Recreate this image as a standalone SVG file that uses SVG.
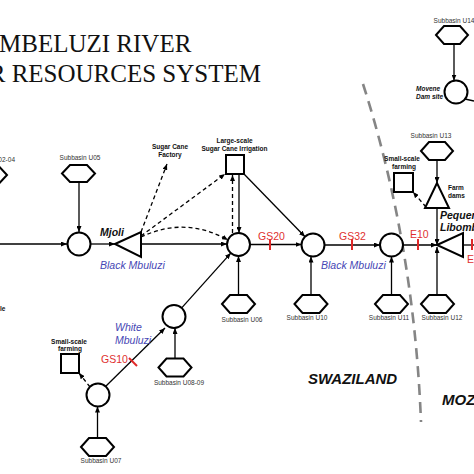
<svg xmlns="http://www.w3.org/2000/svg" width="474" height="474" viewBox="0 0 474 474">
<defs>
<marker id="ah" markerUnits="userSpaceOnUse" markerWidth="6" markerHeight="5" refX="6" refY="2.5" orient="auto"><path d="M0,0 L6,2.5 L0,5 z" fill="#000"/></marker>
</defs>
<style>
.node{fill:#fff;stroke:#000;stroke-width:2}
.ln{fill:none;stroke:#000;stroke-width:1.3;marker-end:url(#ah)}
.dl{fill:none;stroke:#000;stroke-width:1.3;stroke-dasharray:4 3;marker-end:url(#ah)}
.tick{stroke:#e02828;stroke-width:2}
.sb{font-family:"Liberation Sans",Arial,sans-serif;font-size:6.5px;fill:#333;text-anchor:middle}
.lb{font-family:"Liberation Sans",Arial,sans-serif;font-size:6.5px;font-weight:bold;fill:#111;text-anchor:middle}
.bi{font-family:"Liberation Sans",Arial,sans-serif;font-weight:bold;font-style:italic;fill:#111}
.riv{font-family:"Liberation Sans",Arial,sans-serif;font-size:10.5px;font-style:italic;fill:#4646b4}
.red{font-family:"Liberation Sans",Arial,sans-serif;font-size:10.5px;fill:#e03030}
.ttl{font-family:"Liberation Serif","Times New Roman",serif;font-size:25px;fill:#111}
</style>
<rect width="474" height="474" fill="#fff"/>
<text class="ttl" x="-1" y="52">MBELUZI RIVER</text>
<text class="ttl" x="261" y="82" text-anchor="end">R RESOURCES SYSTEM</text>
<path d="M363,84 Q414,243 421,422" fill="none" stroke="#858585" stroke-width="2.6" stroke-dasharray="11 7"/>
<g id="connectors">
<path class="ln" d="M0,244 H67"/>
<path class="ln" d="M79,182 V232"/>
<path class="ln" d="M90.5,244 H115"/>
<path class="ln" d="M141,244 H227"/>
<path class="dl" d="M141,237 Q185,216 228,240"/>
<path class="dl" d="M141,236 L225,174"/>
<path class="dl" d="M141,232 L167,164"/>
<path class="dl" d="M232.5,233 V175"/>
<path class="ln" d="M239,175 V233"/>
<path class="ln" d="M244,174 L305,236.7"/>
<path class="ln" d="M250,244.5 H301.5"/>
<path class="ln" d="M324.5,245 H380"/>
<path class="ln" d="M403,245 H437"/>
<path d="M463,245 H474" stroke="#000" stroke-width="1.3"/>
<path class="ln" d="M437,160 V183"/>
<path class="ln" d="M437,208 V245"/>
<path class="ln" d="M437,295 V247"/>
<path class="dl" d="M426,207 L413,192"/>
<path class="ln" d="M238.5,295 V256"/>
<path class="ln" d="M311,295 V256.5"/>
<path class="ln" d="M391.5,295 V256.5"/>
<path class="ln" d="M105,387 L165,328"/>
<path class="ln" d="M181.7,307.9 L230.8,253.1"/>
<path class="ln" d="M97.5,438 V406.5"/>
<path class="ln" d="M175,358.5 V328"/>
<path class="dl" d="M90,387 L79,373"/>
<path class="ln" d="M454,44 V80.5"/>
<path d="M465,99 L474,101" stroke="#000" stroke-width="1.3"/>
<line class="tick" x1="270" y1="239" x2="270" y2="250"/>
<line class="tick" x1="352" y1="239" x2="352" y2="250"/>
<line class="tick" x1="418" y1="239" x2="418" y2="250"/>
<line class="tick" x1="472" y1="239" x2="472" y2="250"/>
<line class="tick" x1="129" y1="358" x2="137" y2="366"/>
</g>
<g id="U02-04"><polygon class="node" points="-26,175 -18,166.5 -1,166.5 7,175 -1,183.5 -18,183.5"/><text class="sb" x="15" y="162" text-anchor="end" style="text-anchor:end">Subbasin U02-04</text></g>
<g id="U05"><polygon class="node" points="62,173.5 70,165 87,165 95,173.5 87,182 70,182"/><text class="sb" x="80" y="160">Subbasin U05</text></g>
<g id="N1"><circle class="node" cx="79" cy="244" r="11.5"/></g>
<g id="Mjoli"><polygon class="node" points="115,244 141,232 141,257"/><text class="bi" x="100" y="236" font-size="10.5">Mjoli</text></g>
<g id="Factory"><text class="lb" x="170" y="149">Sugar Cane</text><text class="lb" x="170" y="157">Factory</text></g>
<g id="Irrigation"><rect class="node" x="226" y="155" width="18" height="19"/><text class="lb" x="234.5" y="143">Large-scale</text><text class="lb" x="234.5" y="151">Sugar Cane Irrigation</text></g>
<g id="NA"><circle class="node" cx="238.5" cy="244.5" r="11.5"/></g>
<g id="NB"><circle class="node" cx="313" cy="245" r="11.5"/></g>
<g id="NC"><circle class="node" cx="391.5" cy="245" r="11.5"/></g>
<g id="Pequenos"><polygon class="node" points="437,245 463,233 463,257"/><text class="bi" x="440" y="219" font-size="10.5">Pequenos</text><text class="bi" x="440" y="231" font-size="10.5">Libombos</text></g>
<g id="FarmDams"><polygon class="node" points="437,183 425,208 449,208"/><text class="lb" x="448" y="190" style="text-anchor:start">Farm</text><text class="lb" x="448" y="198" style="text-anchor:start">dams</text></g>
<g id="FarmR"><rect class="node" x="394" y="173" width="19" height="19"/><text class="lb" x="402" y="161">Small-scale</text><text class="lb" x="404" y="169">farming</text></g>
<g id="U13"><polygon class="node" points="421,151 429,142 445,142 453,151 445,160 429,160"/><text class="sb" x="431" y="138">Subbasin U13</text></g>
<g id="U14"><polygon class="node" points="436,35 444,26 460,26 468,35 460,44 444,44"/><text class="sb" x="454" y="23">Subbasin U14</text></g>
<g id="Movene"><circle class="node" cx="456" cy="92" r="11.5"/><text class="bi" x="416" y="91" font-size="6.5">Movene</text><text class="bi" x="416" y="99" font-size="6.5">Dam site</text></g>
<g id="U06"><polygon class="node" points="222,304 230,295 247,295 255,304 247,313 230,313"/><text class="sb" x="242" y="322">Subbasin U06</text></g>
<g id="U10"><polygon class="node" points="294.5,304 302.5,295 319.5,295 327.5,304 319.5,313 302.5,313"/><text class="sb" x="307" y="320">Subbasin U10</text></g>
<g id="U11"><polygon class="node" points="375,304 383,295 400,295 408,304 400,313 383,313"/><text class="sb" x="389" y="320">Subbasin U11</text></g>
<g id="U12"><polygon class="node" points="421,304 429,295 446,295 454,304 446,313 429,313"/><text class="sb" x="442" y="320">Subbasin U12</text></g>
<g id="ND"><circle class="node" cx="98" cy="395" r="11.5"/></g>
<g id="NE"><circle class="node" cx="174" cy="316.5" r="11.5"/></g>
<g id="FarmL"><rect class="node" x="61" y="354" width="18" height="19"/><text class="lb" x="69" y="344">Small-scale</text><text class="lb" x="70" y="351">farming</text></g>
<g id="U07"><polygon class="node" points="81,447 89,438 106,438 114,447 106,456 89,456"/><text class="sb" x="101" y="463">Subbasin U07</text></g>
<g id="U08-09"><polygon class="node" points="158.5,367.5 166.5,358.5 183.5,358.5 191.5,367.5 183.5,376.5 166.5,376.5"/><text class="sb" x="179" y="385">Subbasin U08-09</text></g>
<g id="labels">
<text class="riv" x="100" y="269">Black Mbuluzi</text>
<text class="riv" x="321" y="269">Black Mbuluzi</text>
<text class="riv" x="115" y="331">White</text>
<text class="riv" x="115" y="344">Mbuluzi</text>
<text class="red" x="258" y="240">GS20</text>
<text class="red" x="339" y="240">GS32</text>
<text class="red" x="410" y="238">E10</text>
<text class="red" x="467" y="263">E</text>
<text class="red" x="101" y="363">GS10</text>
<text class="bi" x="308" y="384" font-size="15">SWAZILAND</text>
<text class="bi" x="442" y="405" font-size="15">MOZ</text>
<text class="lb" x="0" y="311" style="text-anchor:start">le</text>
</g>
</svg>
